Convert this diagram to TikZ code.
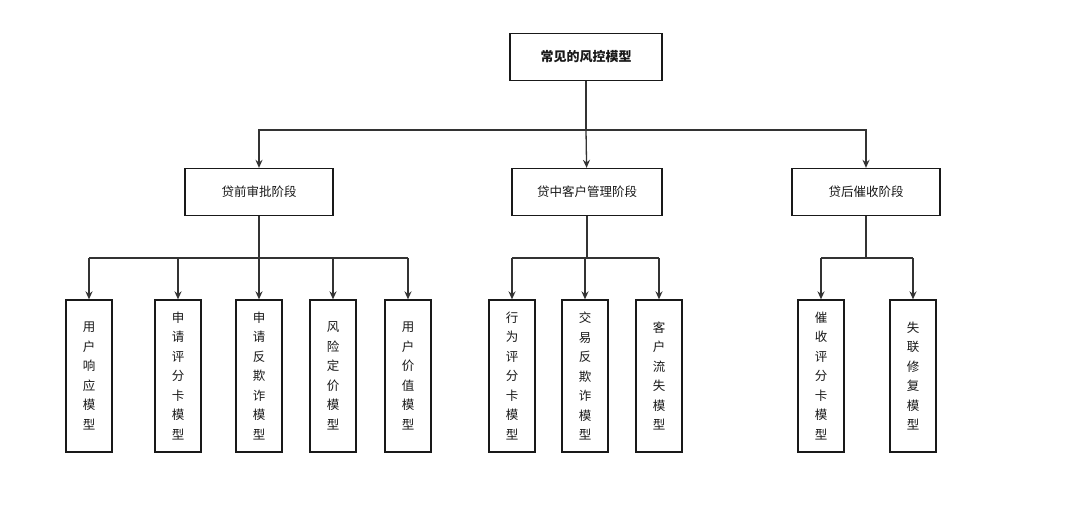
\documentclass[tikz,border=0pt]{standalone}
\usepackage{fontspec}
\newfontfamily\cjk{Noto Sans CJK SC}
\usetikzlibrary{arrows.meta,positioning}
\tikzset{
  box/.style={draw=black!90, line width=1.3pt, fill=white, font=\cjk\fontsize{12.5}{14}\selectfont, text=black!90, inner sep=0pt},
  leaf/.style={box, minimum width=46pt, minimum height=152pt, align=center, font=\cjk\fontsize{12.5}{19.5}\selectfont},
  link/.style={draw=black!80, line width=1.3pt},
  arr/.style={link, -{Stealth[length=8pt, width=7pt]}}
}
\begin{document}
\begin{tikzpicture}[x=1pt, y=-1pt]
  \useasboundingbox (0,0) rectangle (1080,512);

  % Root and stages
  \node[box, minimum width=152pt, minimum height=47pt, font=\cjk\bfseries\fontsize{13}{15}\selectfont] (root) at (586,57) {常见的风控模型};
  \node[box, minimum width=148pt, minimum height=47pt] (pre) at (259,192) {贷前审批阶段};
  \node[box, minimum width=150pt, minimum height=47pt] (mid) at (587,192) {贷中客户管理阶段};
  \node[box, minimum width=148pt, minimum height=47pt] (post) at (866,192) {贷后催收阶段};

  \coordinate (j0) at (586,130);
  \draw[link] (root) -- (j0);
  \draw[arr] (j0) -| (pre);
  \draw[arr] (j0) -| (post);
  \draw[arr] (j0) -- (mid);

  % Leaves
  \foreach \name/\x/\txt in {
      a/89/{用\\户\\响\\应\\模\\型},
      b/178/{申\\请\\评\\分\\卡\\模\\型},
      c/259/{申\\请\\反\\欺\\诈\\模\\型},
      d/333/{风\\险\\定\\价\\模\\型},
      e/408/{用\\户\\价\\值\\模\\型},
      f/512/{行\\为\\评\\分\\卡\\模\\型},
      g/585/{交\\易\\反\\欺\\诈\\模\\型},
      h/659/{客\\户\\流\\失\\模\\型},
      i/821/{催\\收\\评\\分\\卡\\模\\型},
      k/913/{失\\联\\修\\复\\模\\型}}{
    \node[leaf] (\name) at (\x,376) {\txt};
    \coordinate (t\name) at (\x,258);
    \draw[arr] (t\name) -- (\name);
  }

  % Branch lines
  \draw[link] (pre) -- (259,258);
  \draw[link] (ta) -- (te);
  \draw[link] (mid) -- (587,258);
  \draw[link] (tf) -- (th);
  \draw[link] (post) -- (866,258);
  \draw[link] (ti) -- (tk);
\end{tikzpicture}
\end{document}
